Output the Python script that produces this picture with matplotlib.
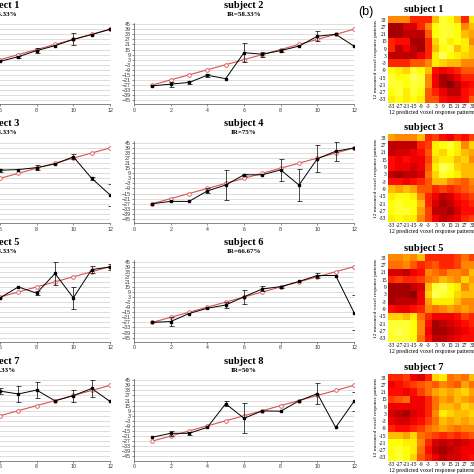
import numpy as np
import matplotlib
matplotlib.use("Agg")
import matplotlib.pyplot as plt
from matplotlib.colors import Normalize

# ---------------- data ----------------
x_pts = list(range(1, 13))
predicted = [-27, -21, -15, -9, -3, 3, 9, 15, 21, 27, 33, 39]
yticks_vals = [-45, -39, -33, -27, -21, -15, -9, -3, 3, 9, 15, 21, 27, 33, 39, 45]
hm_ticks = [-33, -27, -21, -15, -9, -3, 3, 9, 15, 21, 27, 33]

subjects_line = ["subject 1", "subject 2", "subject 3", "subject 4",
                 "subject 5", "subject 6", "subject 7", "subject 8"]
ir_labels = ["IR=83.33%", "IR=58.33%", "IR=58.33%", "IR=75%",
             "IR=58.33%", "IR=66.67%", "IR=8.33%", "IR=50%"]

meas_s1 = [-27, -21, -15, -9, -3, 1, 6.5, 13.7, 19.6, 27, 32.7, 39]
err_s1 = [0, 0, 0, 0, 0, 0, 1, 3, 0, 7, 0, 0]
meas_s2 = [-28, -26, -24, -15.5, -19.5, 11.3, 9.4, 13.7, 19, 30.7, 33, 19]
err_s2 = [0, 3, 2, 1.5, 0, 11, 3, 1.5, 0, 6, 0, 0]
meas_s3 = [-27, -21, -15, -9, -3, 12.6, 13.4, 15.7, 20, 28.5, 3, -16.5]
err_s3 = [0, 0, 0, 0, 0, 2, 0, 3, 0, 3, 2, 13]
meas_s4 = [-27, -24.3, -24.3, -11.9, -4.9, 7.2, 7.2, 13, -4.9, 26.2, 35.1, 39]
err_s4 = [0, 0, 0, 3, 18, 1.5, 0, 13, 19, 16, 11, 0]
meas_s5 = [-27, -21, -15, -9, -3, 2.1, 15, 7.6, 30.9, 2.1, 35.5, 38.6]
err_s5 = [0, 0, 0, 0, 0, 0, 0, 2, 14, 13, 4, 3]
meas_s6 = [-27, -26, -16.5, -10.3, -6.4, 3.3, 12.6, 15.3, 21.5, 28.5, 28.5, -15.3]
err_s6 = [0, 5, 0, 0, 3, 8, 3, 1, 0, 3, 0, 21]
meas_s7 = [-27, -21, -15, -9, -3, 32.2, 28.8, 33.4, 20.7, 26.8, 35.3, 20]
err_s7 = [0, 0, 0, 0, 0, 4, 9, 9, 0, 7, 10, 0]
meas_s8 = [-22.4, -17.8, -17.8, -10.8, 17.2, 0, 8.8, 8.4, 20.7, 29.2, -10.8, 20]
err_s8 = [0, 3, 2, 0, 3, 18, 0, 0, 0, 12, 0, 11]

measured = [meas_s1, meas_s2, meas_s3, meas_s4, meas_s5, meas_s6, meas_s7, meas_s8]
errors = [err_s1, err_s2, err_s3, err_s4, err_s5, err_s6, err_s7, err_s8]

hm_titles = ["subject 1", "subject 3", "subject 5", "subject 7"]
hm_s1 = [
    [0.6, 0.6, 0.6, 0.4, 0.4, 0.4, 0.7, 0.9, 0.85, 0.7, 0.4, 0.8],
    [0.15, 0.15, 0.25, 0.25, 0.4, 0.6, 0.85, 0.9, 0.9, 0.85, 0.6, 0.7],
    [0.15, 0.15, 0.2, 0.2, 0.2, 0.5, 0.85, 0.9, 0.9, 0.85, 0.7, 0.65],
    [0.4, 0.35, 0.35, 0.15, 0.15, 0.4, 0.75, 0.9, 0.8, 0.85, 0.8, 0.6],
    [0.4, 0.2, 0.3, 0.2, 0.15, 0.4, 0.7, 0.85, 0.9, 0.7, 0.8, 0.7],
    [0.2, 0.2, 0.2, 0.2, 0.3, 0.4, 0.8, 0.95, 0.85, 0.8, 0.75, 0.7],
    [0.4, 0.4, 0.4, 0.5, 0.5, 0.6, 0.8, 0.75, 0.7, 0.7, 0.6, 0.6],
    [0.85, 0.8, 0.75, 0.9, 0.85, 0.7, 0.35, 0.3, 0.35, 0.4, 0.5, 0.5],
    [0.9, 0.85, 0.85, 0.95, 0.9, 0.6, 0.3, 0.15, 0.2, 0.3, 0.4, 0.4],
    [0.9, 0.9, 0.85, 0.9, 0.9, 0.6, 0.3, 0.15, 0.1, 0.2, 0.3, 0.35],
    [0.85, 0.9, 0.8, 0.9, 0.85, 0.5, 0.4, 0.3, 0.2, 0.2, 0.35, 0.4],
    [0.8, 0.85, 0.8, 0.85, 0.8, 0.5, 0.5, 0.35, 0.3, 0.3, 0.35, 0.5],
]
hm_s3 = [
    [0.65, 0.6, 0.6, 0.6, 0.7, 0.4, 0.45, 0.35, 0.3, 0.4, 0.35, 0.45],
    [0.2, 0.2, 0.2, 0.2, 0.4, 0.45, 0.8, 0.85, 0.9, 0.8, 0.6, 0.75],
    [0.2, 0.25, 0.25, 0.3, 0.35, 0.5, 0.8, 0.75, 0.85, 0.8, 0.7, 0.65],
    [0.35, 0.3, 0.35, 0.3, 0.3, 0.45, 0.75, 0.8, 0.8, 0.7, 0.75, 0.6],
    [0.35, 0.3, 0.3, 0.25, 0.3, 0.5, 0.8, 0.95, 0.9, 0.75, 0.7, 0.7],
    [0.2, 0.15, 0.2, 0.2, 0.25, 0.55, 0.75, 0.9, 0.85, 0.8, 0.7, 0.7],
    [0.35, 0.35, 0.3, 0.35, 0.4, 0.5, 0.7, 0.7, 0.6, 0.55, 0.5, 0.6],
    [0.7, 0.65, 0.7, 0.65, 0.5, 0.5, 0.4, 0.45, 0.4, 0.45, 0.5, 0.55],
    [0.8, 0.85, 0.85, 0.8, 0.6, 0.4, 0.3, 0.2, 0.25, 0.35, 0.4, 0.45],
    [0.85, 0.9, 0.85, 0.85, 0.7, 0.4, 0.25, 0.15, 0.2, 0.3, 0.35, 0.4],
    [0.85, 0.9, 0.9, 0.85, 0.65, 0.45, 0.2, 0.2, 0.15, 0.25, 0.35, 0.35],
    [0.8, 0.85, 0.8, 0.8, 0.6, 0.45, 0.3, 0.2, 0.25, 0.3, 0.4, 0.45],
]
hm_s5 = [
    [0.6, 0.6, 0.65, 0.6, 0.7, 0.4, 0.4, 0.4, 0.4, 0.45, 0.55, 0.45],
    [0.55, 0.55, 0.6, 0.5, 0.4, 0.45, 0.5, 0.4, 0.4, 0.45, 0.6, 0.6],
    [0.25, 0.25, 0.2, 0.3, 0.35, 0.6, 0.55, 0.5, 0.6, 0.6, 0.55, 0.7],
    [0.4, 0.45, 0.4, 0.4, 0.45, 0.55, 0.6, 0.7, 0.65, 0.6, 0.75, 0.65],
    [0.15, 0.15, 0.15, 0.2, 0.25, 0.7, 0.9, 0.95, 0.85, 0.8, 0.6, 0.7],
    [0.15, 0.15, 0.15, 0.1, 0.3, 0.75, 0.95, 0.9, 0.85, 0.75, 0.7, 0.7],
    [0.15, 0.2, 0.2, 0.2, 0.3, 0.65, 0.8, 0.8, 0.8, 0.7, 0.6, 0.6],
    [0.35, 0.3, 0.3, 0.35, 0.4, 0.6, 0.55, 0.6, 0.65, 0.6, 0.65, 0.6],
    [0.75, 0.75, 0.7, 0.8, 0.55, 0.4, 0.3, 0.3, 0.3, 0.35, 0.45, 0.4],
    [0.9, 0.9, 0.9, 0.85, 0.6, 0.35, 0.15, 0.2, 0.25, 0.3, 0.35, 0.4],
    [0.9, 0.95, 0.9, 0.85, 0.6, 0.3, 0.15, 0.15, 0.2, 0.25, 0.3, 0.35],
    [0.9, 0.9, 0.9, 0.85, 0.55, 0.35, 0.2, 0.2, 0.25, 0.3, 0.35, 0.35],
]
hm_s7 = [
    [0.4, 0.4, 0.45, 0.3, 0.25, 0.4, 0.75, 0.8, 0.55, 0.6, 0.55, 0.7],
    [0.3, 0.35, 0.4, 0.45, 0.5, 0.55, 0.5, 0.6, 0.55, 0.5, 0.65, 0.55],
    [0.35, 0.35, 0.3, 0.35, 0.45, 0.55, 0.65, 0.7, 0.65, 0.7, 0.75, 0.65],
    [0.45, 0.5, 0.55, 0.3, 0.3, 0.4, 0.55, 0.65, 0.6, 0.7, 0.65, 0.6],
    [0.3, 0.3, 0.3, 0.3, 0.3, 0.4, 0.55, 0.7, 0.7, 0.65, 0.75, 0.7],
    [0.25, 0.2, 0.15, 0.25, 0.3, 0.4, 0.6, 0.8, 0.75, 0.7, 0.7, 0.75],
    [0.3, 0.25, 0.25, 0.3, 0.35, 0.45, 0.55, 0.7, 0.65, 0.7, 0.65, 0.7],
    [0.4, 0.35, 0.35, 0.4, 0.45, 0.55, 0.6, 0.65, 0.6, 0.55, 0.6, 0.6],
    [0.7, 0.7, 0.65, 0.75, 0.55, 0.5, 0.45, 0.4, 0.45, 0.4, 0.45, 0.5],
    [0.85, 0.85, 0.8, 0.8, 0.6, 0.4, 0.25, 0.2, 0.25, 0.2, 0.25, 0.3],
    [0.85, 0.9, 0.85, 0.8, 0.55, 0.35, 0.2, 0.15, 0.2, 0.25, 0.3, 0.3],
    [0.85, 0.9, 0.85, 0.75, 0.5, 0.4, 0.3, 0.2, 0.25, 0.25, 0.3, 0.35],
]
heatmaps = [hm_s1, hm_s3, hm_s5, hm_s7]

# ---------------- layout helpers ----------------
W = H = 474.0
fig = plt.figure(figsize=(4.74, 4.74), dpi=100)

def box(x0, y0, x1, y1):
    return [x0 / W, 1 - y1 / H, (x1 - x0) / W, (y1 - y0) / H]

serif = "Liberation Serif"
sans = "Liberation Sans"
red = "#d9534f"
grid_c = "#d8d8d8"

row_step = 118.7
rows = [(22.5 + row_step * r, 104.4 + row_step * r) for r in range(4)]
cols = [(-110, 110), (134, 354)]

for i in range(8):
    r, c = divmod(i, 2)
    y0, y1 = rows[r]
    x0, x1 = cols[c]
    ax = fig.add_axes(box(x0, y0, x1, y1))
    ax.set_xlim(0, 12)
    ax.set_ylim(-50, 47)
    ax.set_yticks(yticks_vals)
    ax.set_xticks(range(0, 13, 2))
    for yv in yticks_vals:
        ax.axhline(yv, color=grid_c, lw=0.6, zorder=0)
    ax.plot(x_pts, predicted, color=red, lw=0.8, marker="o", ms=2.6,
            mfc="white", mec=red, mew=0.6, zorder=2)
    err = np.array(errors[i], dtype=float)
    err[err == 0] = np.nan
    ax.errorbar(x_pts, measured[i], yerr=err, color="black", lw=0.7,
                marker="s", ms=2.0, mfc="black", elinewidth=0.5, capsize=1.8,
                capthick=0.5, zorder=3)
    for s in ["top", "right"]:
        ax.spines[s].set_visible(False)
    for s in ["left", "bottom"]:
        ax.spines[s].set_color("#555555")
        ax.spines[s].set_linewidth(0.5)
    ax.tick_params(labelsize=3.8, length=1.5, width=0.4, pad=1,
                   colors="#333333")
    for lab in ax.get_xticklabels() + ax.get_yticklabels():
        lab.set_family(sans)
    cx = (x0 + x1) / 2
    fig.text(cx / W, 1 - (y0 - 17.5) / H, subjects_line[i], ha="center",
             va="center", family=serif, fontweight="bold", fontsize=7.5)
    fig.text(cx / W, 1 - (y0 - 8.5) / H, ir_labels[i], ha="center",
             va="center", family=serif, fontweight="bold", fontsize=5)

# heatmaps
hm_rows = [(16, 103), (134, 222), (254, 342), (374, 461)]
cmap = plt.get_cmap("hot")
norm = Normalize(vmin=-0.16, vmax=1.173)
for k in range(4):
    y0, y1 = hm_rows[k]
    ax = fig.add_axes(box(388, y0, 476, y1))
    ax.imshow(np.array(heatmaps[k]), cmap=cmap, norm=norm, aspect="auto",
              interpolation="nearest")
    ax.set_xticks(range(12))
    ax.set_xticklabels([str(v) for v in hm_ticks])
    ax.set_yticks(range(12))
    ax.set_yticklabels([str(v) for v in hm_ticks[::-1]])
    ax.tick_params(labelsize=4.0, length=0, pad=1)
    for lab in ax.get_xticklabels() + ax.get_yticklabels():
        lab.set_family(serif)
    for s in ax.spines.values():
        s.set_visible(False)
    ax.set_xlabel("12 predicted voxel response patterns", fontsize=4.2,
                  family=serif, labelpad=0.5)
    ax.set_ylabel("12 measured voxel response patterns", fontsize=3.9,
                  family=serif, labelpad=1)
    fig.text(424 / W, 1 - (y0 - 6) / H, hm_titles[k], ha="center",
             va="center", family=serif, fontweight="bold", fontsize=7.5)

fig.text(358 / W, 1 - 12 / H, "(b)", ha="left", va="center", family=sans,
         fontsize=9)

fig.savefig("out.png", dpi=100)
